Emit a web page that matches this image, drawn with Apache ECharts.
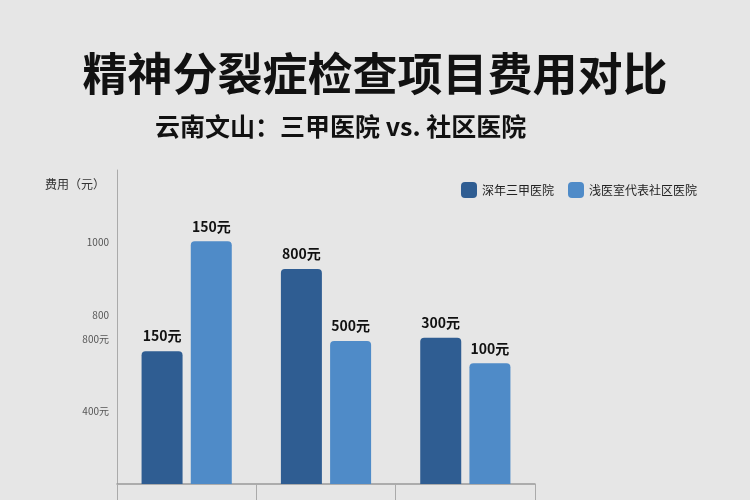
<!DOCTYPE html>
<html>
<head>
<meta charset="utf-8">
<script src="https://cdn.jsdelivr.net/npm/echarts@6/dist/echarts.min.js"></script>
<style>
  html, body { margin: 0; padding: 0; background: #e6e6e6; }
  #chart { width: 750px; height: 500px; }
</style>
</head>
<body>
<div id="chart"></div>
<script>
// 数据层
var categories = ['初诊检查', '心理评估', '影像检查'];
var seriesNames = ['深年三甲医院', '浅医室代表社区医院'];
var tertiaryValues = [550, 890, 605];     // 柱高（按图估计）
var communityValues = [1005, 592, 500];
var tertiaryLabels = ['150元', '800元', '300元'];
var communityLabels = ['150元', '500元', '100元'];
// 纵轴刻度文字（图上原样）
var tickLabels = { 300: '400元', 600: '800元', 700: '800', 1000: '1000' };

var chart = echarts.init(document.getElementById('chart'));
var font = '"Noto Sans CJK SC", sans-serif';

var option = {
  backgroundColor: '#e6e6e6',
  textStyle: { fontFamily: font },
  title: [
    {
      text: '精神分裂症检查项目费用对比',
      left: 'center',
      top: 46,
      textStyle: { fontSize: 45, fontWeight: 'bold', color: '#111', fontFamily: font }
    },
    {
      text: '云南文山：三甲医院 vs. 社区医院',
      left: 150,
      top: 109,
      textStyle: { fontSize: 25, fontWeight: 'bold', color: '#111', fontFamily: font }
    }
  ],
  legend: {
    right: 48,
    top: 177,
    itemWidth: 16,
    itemHeight: 16,
    itemGap: 14,
    textStyle: { fontSize: 12, color: '#222', fontFamily: font },
    data: seriesNames
  },
  grid: { left: 117, right: 215, top: 170, bottom: 16 },
  xAxis: {
    type: 'category',
    data: categories,
    axisLine: { lineStyle: { color: '#999', width: 1.5 } },
    axisTick: { show: true, alignWithLabel: false, length: 30, lineStyle: { color: '#aaa' } },
    axisLabel: { show: false }
  },
  yAxis: {
    type: 'value',
    min: 0,
    max: 1300,
    interval: 100,
    name: '费用（元）',
    nameLocation: 'end',
    nameGap: -20,
    nameTextStyle: { align: 'right', padding: [0, 12, 0, 0], color: '#333', fontSize: 12 },
    axisLine: { show: true, lineStyle: { color: '#aaa' } },
    axisTick: { show: false },
    splitLine: { show: false },
    axisLabel: {
      color: '#555',
      fontSize: 10,
      formatter: function (v) { return tickLabels[v] || ''; }
    }
  },
  series: [
    {
      name: seriesNames[0],
      type: 'bar',
      data: tertiaryValues,
      barWidth: 41,
      barGap: '20%',
      itemStyle: { color: '#2f5d92', borderRadius: [4, 4, 0, 0] },
      label: {
        show: true,
        position: 'top',
        distance: 8,
        fontSize: 14,
        fontWeight: 'bold',
        color: '#111',
        formatter: function (p) { return tertiaryLabels[p.dataIndex]; }
      }
    },
    {
      name: seriesNames[1],
      type: 'bar',
      data: communityValues,
      barWidth: 41,
      itemStyle: { color: '#4f8bc8', borderRadius: [4, 4, 0, 0] },
      label: {
        show: true,
        position: 'top',
        distance: 8,
        fontSize: 14,
        fontWeight: 'bold',
        color: '#111',
        formatter: function (p) { return communityLabels[p.dataIndex]; }
      }
    }
  ]
};
chart.setOption(option);
</script>
</body>
</html>
